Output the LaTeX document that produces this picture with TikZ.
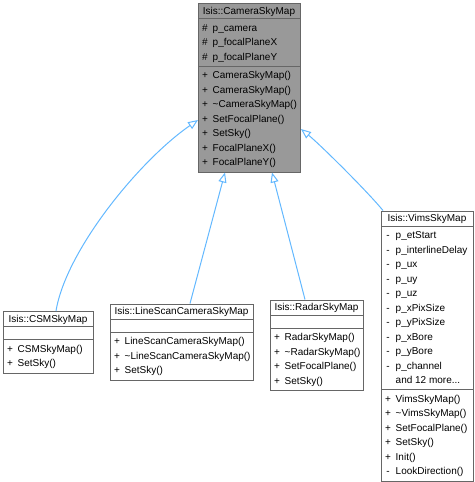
\documentclass[tikz,border=0pt]{standalone}
\usepackage{fontspec}
\setmainfont{Liberation Sans}
\usetikzlibrary{arrows.meta,calc}
\definecolor{edgeblue}{HTML}{63B8FF}
\definecolor{boxborder}{HTML}{666666}
\definecolor{basefill}{HTML}{999999}
\tikzset{
  classbox/.style={draw=boxborder, line width=1pt, rectangle, inner sep=0pt, anchor=north west},
  sepline/.style={draw=boxborder, line width=1pt},
  titletext/.style={anchor=base, inner sep=0pt, font=\fontsize{10}{12}\selectfont},
  symtext/.style={anchor=base, inner sep=0pt, font=\fontsize{10}{12}\selectfont},
  membertext/.style={anchor=base west, inner sep=0pt, font=\fontsize{10}{12}\selectfont},
  inherit/.style={draw=edgeblue, line width=1pt, -{Triangle[open,length=10pt,width=8pt]}}
}
\newcommand\moretext{and 12 more...}
\newcommand\members[4]{%
  \foreach \s/\t [count=\i from 0] in {#4} {
    \node[symtext] (#1s\i) at (#2+7,#3+14.5*\i) {\s};
    \node[membertext] (#1m\i) at (#2+14.5,#3+14.5*\i) {\t};
  }}
\begin{document}
\begin{tikzpicture}[x=1pt,y=-1pt]
\useasboundingbox (0,0) rectangle (474,482);
% ---- base class
\node[classbox, fill=basefill, minimum width=102pt, minimum height=168.5pt] (base) at (198,3) {};
\draw[sepline] ($(base.north west)+(0,15.5)$) -- ($(base.north east)+(0,15.5)$);
\draw[sepline] ($(base.north west)+(0,63)$) -- ($(base.north east)+(0,63)$);
\node[titletext] (basetitle) at (249,14.25) {Isis::CameraSkyMap};
\members{ba}{198}{31.25}{\#/p\_camera, \#/p\_focalPlaneX, \#/p\_focalPlaneY}
\members{bm}{198}{78.75}{+/CameraSkyMap(), +/CameraSkyMap(), +/\textasciitilde CameraSkyMap(), +/SetFocalPlane(), +/SetSky(), +/FocalPlaneX(), +/FocalPlaneY()}
% ---- CSM
\node[classbox, fill=white, minimum width=90pt, minimum height=61.5pt] (csm) at (3,311) {};
\draw[sepline] ($(csm.north west)+(0,15.5)$) -- ($(csm.north east)+(0,15.5)$);
\draw[sepline] ($(csm.north west)+(0,28.5)$) -- ($(csm.north east)+(0,28.5)$);
\node[titletext] (csmtitle) at (48,322.25) {Isis::CSMSkyMap};
\members{cm}{3}{352.25}{+/CSMSkyMap(), +/SetSky()}
% ---- LineScan
\node[classbox, fill=white, minimum width=143pt, minimum height=76pt] (ls) at (110,303.5) {};
\draw[sepline] ($(ls.north west)+(0,15.5)$) -- ($(ls.north east)+(0,15.5)$);
\draw[sepline] ($(ls.north west)+(0,28.5)$) -- ($(ls.north east)+(0,28.5)$);
\node[titletext] (lstitle) at (181.5,314.75) {Isis::LineScanCameraSkyMap};
\members{lm}{110}{344.75}{+/LineScanCameraSkyMap(), +/\textasciitilde LineScanCameraSkyMap(), +/SetSky()}
% ---- Radar
\node[classbox, fill=white, minimum width=93pt, minimum height=90.5pt] (radar) at (270,299.5) {};
\draw[sepline] ($(radar.north west)+(0,15.5)$) -- ($(radar.north east)+(0,15.5)$);
\draw[sepline] ($(radar.north west)+(0,28.5)$) -- ($(radar.north east)+(0,28.5)$);
\node[titletext] (radartitle) at (316.5,310.75) {Isis::RadarSkyMap};
\members{rm}{270}{340.75}{+/RadarSkyMap(), +/\textasciitilde RadarSkyMap(), +/SetFocalPlane(), +/SetSky()}
% ---- Vims
\node[classbox, fill=white, minimum width=92pt, minimum height=270pt] (vims) at (381,210.5) {};
\draw[sepline] ($(vims.north west)+(0,15.5)$) -- ($(vims.north east)+(0,15.5)$);
\draw[sepline] ($(vims.north west)+(0,179)$) -- ($(vims.north east)+(0,179)$);
\node[titletext] (vimstitle) at (427,221.75) {Isis::VimsSkyMap};
\members{va}{381}{238.75}{-/p\_etStart, -/p\_interlineDelay, -/p\_ux, -/p\_uy, -/p\_uz, -/p\_xPixSize, -/p\_yPixSize, -/p\_xBore, -/p\_yBore, -/p\_channel, /\moretext}
\members{vm}{381}{402.25}{+/VimsSkyMap(), +/\textasciitilde VimsSkyMap(), +/SetFocalPlane(), +/SetSky(), +/Init(), -/LookDirection()}
% ---- inheritance connectors
\draw[inherit] ($(csm.north west)+(53,0)$) .. controls (66,250) and (140,160) .. ($(base.north west)+(0,117)$);
\draw[inherit] ($(ls.north west)+(80,0)$) -- ($(base.south west)+(27,0)$);
\draw[inherit] ($(radar.north west)+(35,0)$) -- ($(base.south west)+(74,0)$);
\draw[inherit] ($(vims.north west)+(2,0)$) .. controls (367,191) and (320,144.5) .. ($(base.north east)+(0,126)$);
\end{tikzpicture}
\end{document}
